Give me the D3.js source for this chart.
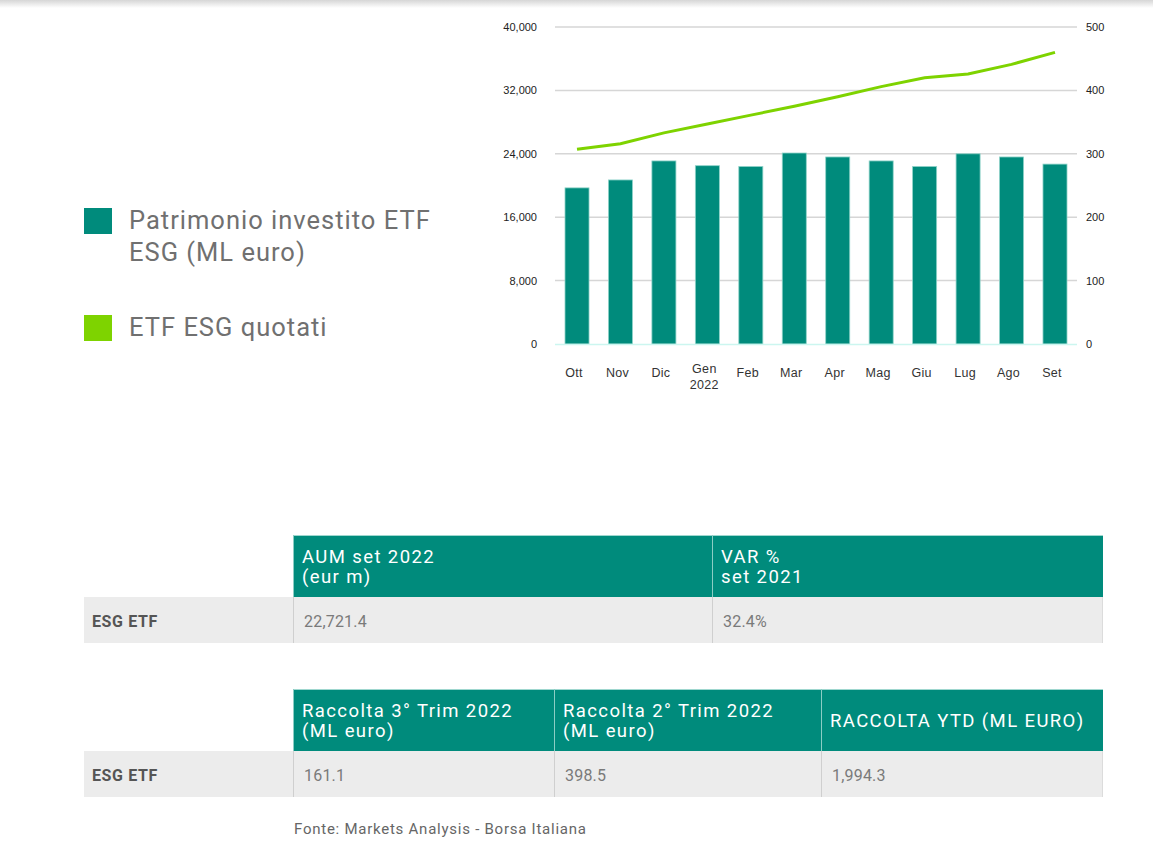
<!DOCTYPE html>
<meta charset="utf-8">
<style>
body { margin: 0; background: #fff; }
.topshade { position: absolute; left: 0; top: 0; width: 1153px; height: 8px;
  background: linear-gradient(#d6d6d6, rgba(255,255,255,0)); }
svg { display: block; font-family: Roboto, "Noto Sans", sans-serif; }
.ytick text { font-size: 11px; fill: #222; }
.xtick text { font-size: 12.5px; fill: #333; letter-spacing: 0.3px; }
.legend text { font-size: 25.5px; fill: #707070; letter-spacing: 1px; }
.hdr { font-size: 18.5px; fill: #fff; letter-spacing: 1.4px; }
.cell { font-size: 16px; fill: #7a7a7a; letter-spacing: 0.2px; }
.rowlab { font-size: 16px; fill: #555; font-weight: bold; letter-spacing: 0.6px; }
.src { font-size: 15px; fill: #666; letter-spacing: 0.75px; }
</style>
<div class="topshade"></div>
<svg width="1153" height="854"></svg>
<script src="https://d3js.org/d3.v7.min.js"></script>
<script>

var months = ["Ott", "Nov", "Dic", "Gen\n2022", "Feb", "Mar", "Apr", "Mag", "Giu", "Lug", "Ago", "Set"];
var aum = [19700, 20700, 23100, 22500, 22400, 24100, 23600, 23100, 22400, 24000, 23600, 22700];
var quotati = [307, 316, 333, 347, 361, 375, 390, 406, 420, 426, 441, 460];
var leftTicks = [0, 8000, 16000, 24000, 32000, 40000];
var rightTicks = [0, 100, 200, 300, 400, 500];
var legendItems = [
  {lines: ["Patrimonio investito ETF", "ESG (ML euro)"], color: "#008b7c"},
  {lines: ["ETF ESG quotati"], color: "#7ed300"}
];

var table1Head = ["", "AUM set 2022\n(eur m)", "VAR %\nset 2021"];
var table1Row = ["ESG ETF", "22,721.4", "32.4%"];
var table1Cols = [84, 293, 712, 1103];
var table2Head = ["", "Raccolta 3° Trim 2022\n(ML euro)", "Raccolta 2° Trim 2022\n(ML euro)", "RACCOLTA YTD (ML EURO)"];
var table2Row = ["ESG ETF", "161.1", "398.5", "1,994.3"];
var table2Cols = [84, 293, 554, 821, 1103];

var teal = "#008b7c",
    lime = "#7ed300";

var svg = d3.select("svg");

// ---- chart ----
var x = d3.scaleBand().domain(months).range([555, 1077]).paddingInner(0.447).paddingOuter(0.23),
    y = d3.scaleLinear().domain([0, 40000]).range([344, 27]),
    y2 = d3.scaleLinear().domain([0, 500]).range([344, 27]);

var grid = svg.append("g");
grid.selectAll("line")
  .data(leftTicks.slice(1))
  .enter().append("line")
    .attr("x1", 555).attr("x2", 1077)
    .attr("y1", function(d) { return y(d); })
    .attr("y2", function(d) { return y(d); })
    .attr("stroke", "#d6d6d6")
    .attr("stroke-width", 1.5);

var fmt = d3.format(",");
var yAxis = svg.append("g")
    .attr("class", "ytick")
    .attr("transform", "translate(555,0)")
    .call(d3.axisLeft(y).tickValues(leftTicks).tickFormat(fmt).tickSize(0).tickPadding(18));
yAxis.select(".domain").remove();

var y2Axis = svg.append("g")
    .attr("class", "ytick")
    .attr("transform", "translate(1077,0)")
    .call(d3.axisRight(y2).tickValues(rightTicks).tickSize(0).tickPadding(9));
y2Axis.select(".domain").remove();

svg.append("g").selectAll("rect")
  .data(aum)
  .enter().append("rect")
    .attr("x", function(d, i) { return x(months[i]); })
    .attr("y", function(d) { return y(d); })
    .attr("width", x.bandwidth())
    .attr("height", function(d) { return y(0) - y(d); })
    .attr("fill", teal)
    .attr("stroke", "#8fd3c9")
    .attr("stroke-width", 0.8);

svg.append("line")
    .attr("x1", 555).attr("x2", 1077)
    .attr("y1", y(0) + 0.5).attr("y2", y(0) + 0.5)
    .attr("stroke", "#ccf6f0")
    .attr("stroke-width", 1.5);

var line = d3.line()
    .x(function(d, i) { return x(months[i]) + x.bandwidth() / 2; })
    .y(function(d) { return y2(d); });

svg.append("path")
    .datum(quotati)
    .attr("d", line)
    .attr("fill", "none")
    .attr("stroke", lime)
    .attr("stroke-width", 3);

var xAxis = svg.append("g")
    .attr("class", "xtick")
    .attr("transform", "translate(-3,344)")
    .call(d3.axisBottom(x).tickSize(0).tickFormat(""));
xAxis.select(".domain").remove();
xAxis.selectAll(".tick").append("text")
    .attr("text-anchor", "middle")
    .each(function(d) {
      var parts = d.split("\n"), t = d3.select(this);
      parts.forEach(function(p, j) {
        t.append("tspan").attr("x", 0)
          .attr("y", parts.length > 1 ? 28.5 + j * 16.5 : 32.5)
          .text(p);
      });
    });

// ---- legend ----
var legend = svg.append("g").attr("class", "legend");
var lg = legend.selectAll("g")
  .data(legendItems)
  .enter().append("g")
    .attr("transform", function(d, i) { return "translate(84," + (208 + i * 107) + ")"; });
lg.append("rect")
    .attr("width", 28).attr("height", 26)
    .attr("fill", function(d) { return d.color; });
lg.selectAll("text")
  .data(function(d) { return d.lines; })
  .enter().append("text")
    .attr("x", 45)
    .attr("y", function(d, i) { return 21 + i * 32; })
    .text(function(d) { return d; });

// ---- tables ----
function table(top, cols, head, row, headH, bodyH, hdrY, rowY) {
  var g = svg.append("g").attr("transform", "translate(0," + top + ")");
  var right = cols[cols.length - 1];
  g.append("rect").attr("x", cols[1]).attr("y", 0)
    .attr("width", right - cols[1]).attr("height", headH).attr("fill", teal);
  g.append("line").attr("x1", cols[1]).attr("x2", right).attr("y1", 0.5).attr("y2", 0.5)
    .attr("stroke", "#9fd7cf").attr("stroke-width", 1);
  g.append("rect").attr("x", cols[0]).attr("y", headH)
    .attr("width", right - cols[0]).attr("height", bodyH).attr("fill", "#ececec");
  for (var i = 1; i < cols.length - 1; i++) {
    g.append("line").attr("x1", cols[i] + 0.5).attr("x2", cols[i] + 0.5)
      .attr("y1", 0).attr("y2", headH).attr("stroke", "#8ccdc4");
    g.append("line").attr("x1", cols[i] + 0.5).attr("x2", cols[i] + 0.5)
      .attr("y1", headH).attr("y2", headH + bodyH).attr("stroke", "#cfcfcf");
  }
  g.append("line").attr("x1", cols[1] + 0.5).attr("x2", cols[1] + 0.5)
    .attr("y1", headH).attr("y2", headH + bodyH).attr("stroke", "#cfcfcf");
  g.append("line").attr("x1", right - 0.5).attr("x2", right - 0.5)
    .attr("y1", headH).attr("y2", headH + bodyH).attr("stroke", "#dcdcdc");

  head.forEach(function(h, i) {
    if (!h) return;
    var parts = h.split("\n");
    var t = g.append("text").attr("class", "hdr");
    parts.forEach(function(p, j) {
      t.append("tspan").attr("x", cols[i] + 9)
        .attr("y", parts.length > 1 ? hdrY + j * 20 : hdrY + 10)
        .text(p);
    });
  });
  row.forEach(function(v, i) {
    g.append("text").attr("class", i ? "cell" : "rowlab")
      .attr("x", cols[i] + (i ? 11 : 8))
      .attr("y", rowY)
      .text(v);
  });
}

table(535, table1Cols, table1Head, table1Row, 62, 46, 28, 92);
table(689, table2Cols, table2Head, table2Row, 62, 46, 28, 92);

svg.append("text").attr("class", "src")
    .attr("x", 294).attr("y", 834)
    .text("Fonte: Markets Analysis - Borsa Italiana");

</script>
